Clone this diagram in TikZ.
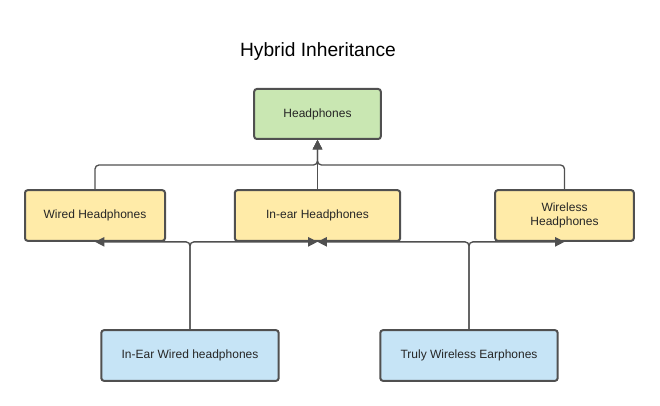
\documentclass[tikz,border=0pt]{standalone}
\usepackage{fontspec}
\setmainfont{Liberation Sans}
\usetikzlibrary{arrows.meta}
\definecolor{boxline}{HTML}{505050}
\definecolor{greenfill}{HTML}{C9E7B2}
\definecolor{yellowfill}{HTML}{FFEBA8}
\definecolor{bluefill}{HTML}{C6E4F6}
\tikzset{every picture/.style={line width=0.75pt}}
\tikzset{
  cls/.style={draw=boxline,line width=1.5pt,rounded corners=2pt,inner sep=0pt,align=center,font=\small,text=black!85},
  link/.style={draw=boxline,line width=1pt,rounded corners=3pt,-{Triangle[length=7pt,width=7pt]}}
}
\begin{document}
\begin{tikzpicture}[x=0.75pt,y=0.75pt,yscale=-1]
	\useasboundingbox (0,0) rectangle (660,406);
	
	% Title
	\node (title) at (318,52) {\Large Hybrid Inheritance};
	
	% Classes
	\node [cls,fill=greenfill,minimum width=95pt,minimum height=37.5pt] (head) at (317.5,114) {Headphones};
	\node [cls,fill=yellowfill,minimum width=105pt,minimum height=38pt] (wired) at (95,215.5) {Wired Headphones};
	\node [cls,fill=yellowfill,minimum width=124pt,minimum height=38pt] (inear) at (317.5,215.5) {In-ear Headphones};
	\node [cls,fill=yellowfill,minimum width=104pt,minimum height=38pt] (wireless) at (564.5,215.5) {Wireless\\Headphones};
	\node [cls,fill=bluefill,minimum width=133pt,minimum height=38pt] (iewired) at (190,355.5) {In-Ear Wired headphones};
	\node [cls,fill=bluefill,minimum width=133pt,minimum height=38pt] (truly) at (469,355.5) {Truly Wireless Earphones};
	
	% Connectors
	\coordinate (upper) at (317.5,165);
	\coordinate (lowerA) at (190,286);
	\coordinate (lowerB) at (469,286);
	\draw [link] (wired.north) |- (upper) -- (head.south);
	\draw [link] (wireless.north) |- (upper) -- (head.south);
	\draw [link] (inear.north) -- (head.south);
	\draw [link] (iewired.north) |- (wired.south);
	\draw [link] (iewired.north) |- (inear.south);
	\draw [link] (truly.north) |- (inear.south);
	\draw [link] (truly.north) |- (wireless.south);
	
\end{tikzpicture}
\end{document}
